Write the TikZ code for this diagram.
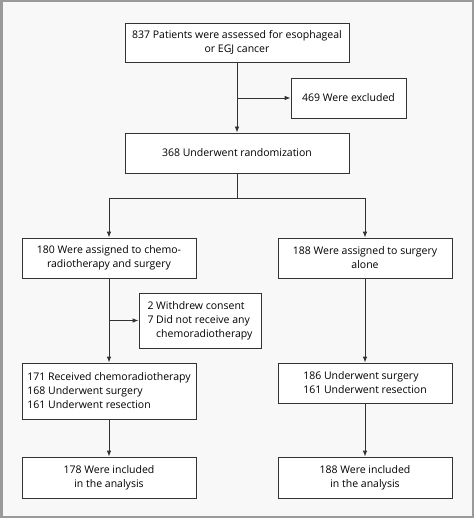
\documentclass[tikz,border=0pt]{standalone}
\usepackage{fontspec}
\setmainfont{Open Sans}
\usepackage{tikz}
\usepackage{xcolor}
\usetikzlibrary{arrows.meta}
\definecolor{framegray}{HTML}{9A9A9A}
\definecolor{pagegray}{HTML}{F8F8F8}
\definecolor{linegray}{HTML}{333333}

\begin{document}
\begin{tikzpicture}[x=1pt, y=-1pt,
    box/.style={rectangle, draw=linegray, fill=white, line width=0.8pt, minimum width=174pt, minimum height=40pt, align=center, font=\fontsize{10.5}{14}\selectfont, inner sep=0pt},
    leftbox/.style={box, align=left},
    flow/.style={-{Latex[length=6pt, width=4.5pt]}, draw=linegray, line width=0.8pt}
]
    \useasboundingbox (0,0) rectangle (474,518);
    \draw[framegray, line width=2.5pt, fill=pagegray] (1.25,1.25) rectangle (472.75,516.75);

    \node[box, minimum width=224pt, minimum height=39pt] (assessed) at (237, 42.5) {837 Patients were assessed for esophageal\\or EGJ cancer};
    \node[box, minimum width=115pt] (excluded) at (348.5, 98) {469 Were excluded};
    \node[box, minimum width=224pt] (random) at (237, 153) {368 Underwent randomization};

    \node[box] (crtarm) at (109, 258) {180 Were assigned to chemo-\\radiotherapy and surgery};
    \node[box] (surgarm) at (365, 258) {188 Were assigned to surgery\\alone};

    \node[leftbox, minimum width=122pt, minimum height=55pt] (withdrew) at (200, 320.5) {2 Withdrew consent\\7 Did not receive any\\\phantom{7 }chemoradiotherapy};

    \node[leftbox, minimum height=56pt] (crtmid) at (109, 391) {171 Received chemoradiotherapy\\168 Underwent surgery\\161 Underwent resection};
    \node[leftbox] (surgmid) at (365, 383) {186 Underwent surgery\\161 Underwent resection};

    \node[box, minimum height=41pt] (crtend) at (109, 477.5) {178 Were included\\in the analysis};
    \node[box, minimum height=41pt] (surgend) at (365, 477.5) {188 Were included\\in the analysis};

    % screening
    \draw[flow] (assessed.south) -- (random.north);
    \coordinate (exclsplit) at (assessed.south |- excluded.west);
    \draw[flow] (exclsplit) -- (excluded.west);

    % randomization
    \coordinate (split) at (237, 198);
    \draw[linegray, line width=0.8pt] (random.south) -- (split);
    \draw[flow] (split) -| (crtarm.north);
    \draw[flow] (split) -| (surgarm.north);

    % chemoradiotherapy arm
    \draw[flow] (crtarm.south) -- (crtmid.north);
    \coordinate (wdsplit) at (crtarm.south |- withdrew.west);
    \draw[flow] (wdsplit) -- (withdrew.west);
    \draw[flow] (crtmid.south) -- (crtend.north);

    % surgery arm
    \draw[flow] (surgarm.south) -- (surgmid.north);
    \draw[flow] (surgmid.south) -- (surgend.north);
\end{tikzpicture}
\end{document}
